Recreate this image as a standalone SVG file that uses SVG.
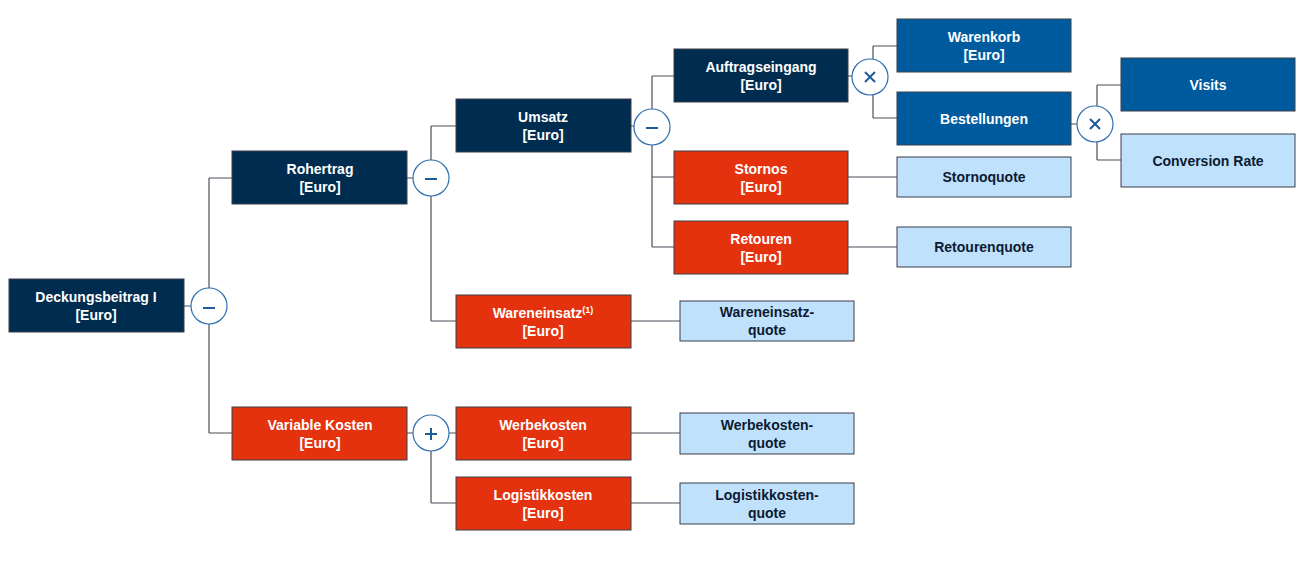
<svg xmlns="http://www.w3.org/2000/svg" width="1310" height="563" viewBox="0 0 1310 563">
<style>
rect{stroke:#3a3f4a;stroke-width:1}
.n{fill:#002d4f}.r{fill:#e4320f}.b{fill:#005a9e}.l{fill:#bfe1fb}
text{font-family:"Liberation Sans",Arial,sans-serif;font-weight:bold;font-size:14px;text-anchor:middle}
.w{fill:#fff}.d{fill:#0d1a33}
#conn path{fill:none;stroke:#4a4f5a;stroke-width:1.2}
circle{fill:#fff;stroke:#2e6fb0;stroke-width:1.2}
.op{fill:none;stroke:#1d5c9c;stroke-width:2}
</style>
<g id="conn">
<path d="M184 306H209M209 178V433M209 178H232M209 433H232"/>
<path d="M407 178H431M431 126V321M431 126H456M431 321H456M631 321H680"/>
<path d="M407 433H431M431 433V503M431 433H456M431 503H456M631 433H680M631 503H680"/>
<path d="M631 126H652M652 76V247M652 76H674M652 177H674M652 247H674M848 177H897M848 247H897"/>
<path d="M848 76H873M873 46V118M873 46H897M873 118H897"/>
<path d="M1071 124H1097M1097 85V160M1097 85H1121M1097 160H1121"/>
</g>
<g id="ops">
<circle cx="209" cy="306" r="18"/><path class="op" d="M203 308H215"/>
<circle cx="431" cy="178" r="18"/><path class="op" d="M425 179H437"/>
<circle cx="431" cy="433" r="18"/><path class="op" d="M425 434H437M431 428V440"/>
<circle cx="652" cy="127" r="18"/><path class="op" d="M646 128H658"/>
<circle cx="870" cy="77" r="18"/><path class="op" d="M865 72L875 82M875 72L865 82"/>
<circle cx="1095" cy="124" r="18"/><path class="op" d="M1090 119L1100 129M1100 119L1090 129"/>
</g>
<g id="deckung"><rect class="n" x="9" y="279" width="175" height="53"/><text class="w" x="96" y="302">Deckungsbeitrag I</text><text class="w" x="96" y="320">[Euro]</text></g>
<g id="rohertrag"><rect class="n" x="232" y="151" width="175" height="53"/><text class="w" x="320" y="174">Rohertrag</text><text class="w" x="320" y="192">[Euro]</text></g>
<g id="varkosten"><rect class="r" x="232" y="407" width="175" height="53"/><text class="w" x="320" y="430">Variable Kosten</text><text class="w" x="320" y="448">[Euro]</text></g>
<g id="umsatz"><rect class="n" x="456" y="99" width="175" height="53"/><text class="w" x="543" y="122">Umsatz</text><text class="w" x="543" y="140">[Euro]</text></g>
<g id="wareneinsatz"><rect class="r" x="456" y="295" width="175" height="53"/><text class="w" x="543" y="318">Wareneinsatz<tspan font-size="9" dy="-5">(1)</tspan></text><text class="w" x="543" y="336">[Euro]</text></g>
<g id="werbekosten"><rect class="r" x="456" y="407" width="175" height="53"/><text class="w" x="543" y="430">Werbekosten</text><text class="w" x="543" y="448">[Euro]</text></g>
<g id="logistik"><rect class="r" x="456" y="477" width="175" height="53"/><text class="w" x="543" y="500">Logistikkosten</text><text class="w" x="543" y="518">[Euro]</text></g>
<g id="weq"><rect class="l" x="680" y="301" width="174" height="40"/><text class="d" x="767" y="317">Wareneinsatz-</text><text class="d" x="767" y="335">quote</text></g>
<g id="wbq"><rect class="l" x="680" y="413" width="174" height="41"/><text class="d" x="767" y="430">Werbekosten-</text><text class="d" x="767" y="448">quote</text></g>
<g id="lgq"><rect class="l" x="680" y="483" width="174" height="41"/><text class="d" x="767" y="500">Logistikkosten-</text><text class="d" x="767" y="518">quote</text></g>
<g id="auftrag"><rect class="n" x="674" y="49" width="174" height="53"/><text class="w" x="761" y="72">Auftragseingang</text><text class="w" x="761" y="90">[Euro]</text></g>
<g id="stornos"><rect class="r" x="674" y="151" width="174" height="53"/><text class="w" x="761" y="174">Stornos</text><text class="w" x="761" y="192">[Euro]</text></g>
<g id="retouren"><rect class="r" x="674" y="221" width="174" height="53"/><text class="w" x="761" y="244">Retouren</text><text class="w" x="761" y="262">[Euro]</text></g>
<g id="stornoquote"><rect class="l" x="897" y="157" width="174" height="40"/><text class="d" x="984" y="182">Stornoquote</text></g>
<g id="retourenquote"><rect class="l" x="897" y="227" width="174" height="40"/><text class="d" x="984" y="252">Retourenquote</text></g>
<g id="warenkorb"><rect class="b" x="897" y="19" width="174" height="53"/><text class="w" x="984" y="42">Warenkorb</text><text class="w" x="984" y="60">[Euro]</text></g>
<g id="bestellungen"><rect class="b" x="897" y="92" width="174" height="53"/><text class="w" x="984" y="124">Bestellungen</text></g>
<g id="visits"><rect class="b" x="1121" y="58" width="174" height="53"/><text class="w" x="1208" y="90">Visits</text></g>
<g id="conversion"><rect class="l" x="1121" y="134" width="174" height="53"/><text class="d" x="1208" y="166">Conversion Rate</text></g>
</svg>
